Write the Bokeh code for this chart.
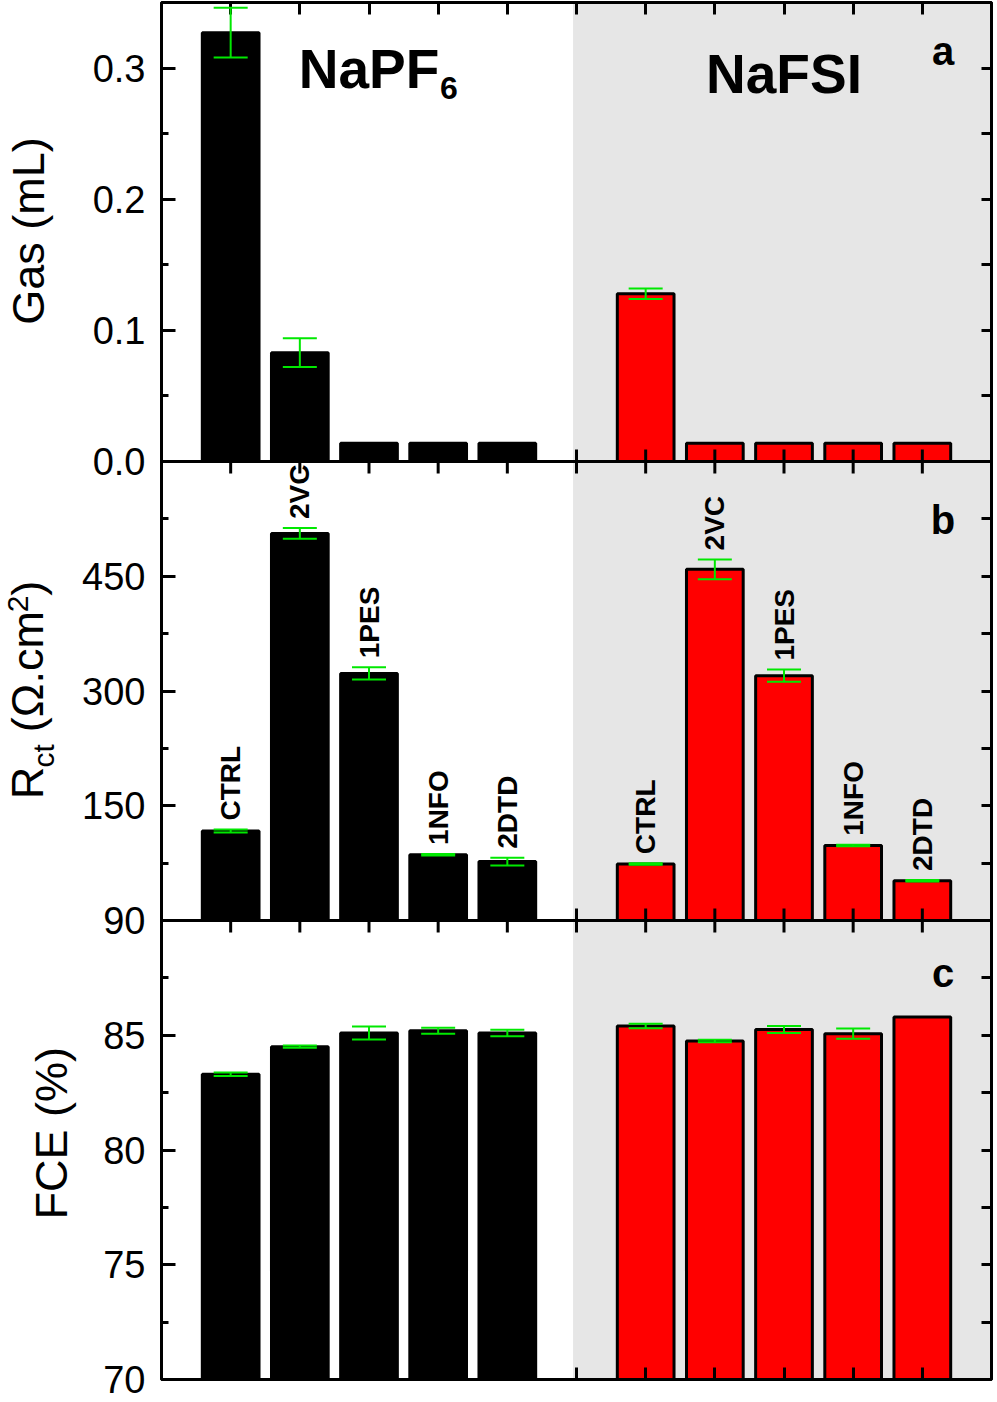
import math
from bokeh.plotting import figure
from bokeh.layouts import row
from bokeh.models import (ColumnDataSource, Range1d, FixedTicker, LinearAxis, Whisker,
                          TeeHead, BoxAnnotation, Span)
from bokeh.core.properties import value
from bokeh.embed import file_html
from bokeh.resources import INLINE

# ---------------- data ----------------
additives = ["CTRL", "2VC", "1PES", "1NFO", "2DTD"]
x_pf6 = [1, 2, 3, 4, 5]
x_fsi = [7, 8, 9, 10, 11]
x_ticks = [1, 2, 3, 4, 5, 6, 7, 8, 9, 10, 11]

gas_pf6 = [0.327, 0.083, 0.014, 0.014, 0.014]
gas_pf6_err = [0.019, 0.011, 0.0, 0.0, 0.0]
gas_fsi = [0.128, 0.014, 0.014, 0.014, 0.014]
gas_fsi_err = [0.004, 0.0, 0.0, 0.0, 0.0]

rct_pf6 = [117, 506, 323, 86, 77]
rct_pf6_err = [2, 7, 8, 1, 5]
rct_fsi = [74, 459, 320, 98, 52]
rct_fsi_err = [1, 13, 8, 1, 1]

fce_pf6 = [83.3, 84.5, 85.1, 85.2, 85.1]
fce_pf6_err = [0.08, 0.05, 0.28, 0.13, 0.14]
fce_fsi = [85.4, 84.75, 85.25, 85.07, 85.8]
fce_fsi_err = [0.1, 0.05, 0.15, 0.22, 0.0]

gas_ticks = [0.0, 0.1, 0.2, 0.3]
gas_tick_labels = ["0.0", "0.1", "0.2", "0.3"]
gas_minor = [0.05, 0.15, 0.25]
rct_ticks = [150, 300, 450]
rct_tick_labels = ["150", "300", "450"]
rct_minor = [75, 225, 375, 525]
fce_ticks = [70, 75, 80, 85, 90]
fce_tick_labels = ["70", "75", "80", "85", "90"]
fce_minor = [72.5, 77.5, 82.5, 87.5]

# ---------------- layout constants ----------------
TOP, BOTTOM = 2, 22
FRAME_W, FRAME_H = 830, 1377
CANVAS_H = TOP + FRAME_H + BOTTOM
TITLE_W = 78          # strip holding the rotated axis titles
LEFT_BORDER = 83      # tick-label room of the main figure
panels = {
    "a": dict(lo=0.0, hi=0.35, p0=918, p1=1377),
    "b": dict(lo=0.0, hi=600.0, p0=459, p1=918),
    "c": dict(lo=70.0, hi=90.0, p0=0, p1=459),
}
GREEN = "#00e800"
RED = "#ff0000"
SHADE = "#e6e6e6"
FONT = "Liberation Sans"
MID = 0.35            # baseline -> text middle, in em


def to_px(v, name):
    c = panels[name]
    return round(c["p0"] + (v - c["lo"]) / (c["hi"] - c["lo"]) * (c["p1"] - c["p0"]), 3)


def below_top(name, d):
    """frame px (from frame bottom) lying d px (reference scale) below a panel's top"""
    c = panels[name]
    return c["p1"] - d * (c["p1"] - c["p0"]) / 462.0


p = figure(frame_width=FRAME_W, frame_height=FRAME_H,
           x_range=Range1d(0, 12), y_range=Range1d(0, FRAME_H),
           output_backend="svg", toolbar_location=None,
           x_axis_location=None, y_axis_location=None,
           min_border_left=LEFT_BORDER, min_border_right=6, min_border_top=TOP,
           min_border_bottom=BOTTOM)
p.outline_line_color = "black"
p.outline_line_width = 3
p.background_fill_color = "white"
p.border_fill_color = "white"
p.grid.visible = False

extra = {}
for name, c in panels.items():
    k = (c["hi"] - c["lo"]) / (c["p1"] - c["p0"])
    extra[name] = Range1d(c["lo"] - c["p0"] * k, c["lo"] + (FRAME_H - c["p0"]) * k)
p.extra_y_ranges = extra

# shaded NaFSI half
p.add_layout(BoxAnnotation(left=5.95, fill_color=SHADE, fill_alpha=1.0,
                           line_color=None, level="underlay"))

# ---------------- y axes (left labelled, right mirrored) ----------------
major_px, minor_px, label_map = [], [], {}
for name, ticks, labels, minors in [("a", gas_ticks, gas_tick_labels, gas_minor),
                                    ("b", rct_ticks, rct_tick_labels, rct_minor),
                                    ("c", fce_ticks, fce_tick_labels, fce_minor)]:
    for t, l in zip(ticks, labels):
        px = to_px(t, name)
        major_px.append(px)
        label_map[px] = l
    for m in minors:
        minor_px.append(to_px(m, name))

left = LinearAxis(ticker=FixedTicker(ticks=major_px, minor_ticks=minor_px),
                  major_label_overrides=label_map,
                  major_tick_in=14, major_tick_out=0, minor_tick_in=7, minor_tick_out=0,
                  major_tick_line_width=3, minor_tick_line_width=3, axis_line_width=3,
                  major_label_standoff=16, major_label_text_font=FONT,
                  major_label_text_font_size="38px", major_label_text_color="black")
p.add_layout(left, "left")

right = LinearAxis(ticker=FixedTicker(ticks=major_px, minor_ticks=minor_px),
                   major_label_overrides={t: "" for t in major_px},
                   major_tick_in=10, major_tick_out=0, minor_tick_in=10, minor_tick_out=0,
                   major_tick_line_width=3, minor_tick_line_width=3, axis_line_width=3,
                   major_label_standoff=0, major_label_text_font_size="1px")
p.add_layout(right, "right")

for loc in ("below", "above"):
    ax = LinearAxis(ticker=FixedTicker(ticks=x_ticks, minor_ticks=[]),
                    major_label_overrides={t: "" for t in x_ticks},
                    major_tick_in=12, major_tick_out=0, major_tick_line_width=3,
                    axis_line_width=3, major_label_standoff=0,
                    major_label_text_font_size="1px")
    p.add_layout(ax, loc)

# ---------------- bars + error bars ----------------
def add_group(xs, vals, errs, panel, color):
    base = panels[panel]["lo"]
    src = ColumnDataSource(dict(x=xs, top=vals, bottom=[base] * len(xs)))
    p.vbar(x="x", top="top", bottom="bottom", width=0.82, fill_color=color,
           line_color="black", line_width=3, y_range_name=panel, source=src)
    ex = [x for x, e in zip(xs, errs) if e > 0]
    up = [v + e for v, e in zip(vals, errs) if e > 0]
    lo = [v - e for v, e in zip(vals, errs) if e > 0]
    wsrc = ColumnDataSource(dict(x=ex, upper=up, lower=lo))
    w = Whisker(source=wsrc, base="x", upper="upper", lower="lower", y_range_name=panel,
                line_color=GREEN, line_width=2, level="annotation",
                upper_head=TeeHead(size=34, line_color=GREEN, line_width=2),
                lower_head=TeeHead(size=34, line_color=GREEN, line_width=2))
    p.add_layout(w)


add_group(x_pf6, gas_pf6, gas_pf6_err, "a", "black")
add_group(x_fsi, gas_fsi, gas_fsi_err, "a", RED)
add_group(x_pf6, rct_pf6, rct_pf6_err, "b", "black")
add_group(x_fsi, rct_fsi, rct_fsi_err, "b", RED)
add_group(x_pf6, fce_pf6, fce_pf6_err, "c", "black")
add_group(x_fsi, fce_fsi, fce_fsi_err, "c", RED)

# additive names above panel-b bars
for xs, vals, errs in [(x_pf6, rct_pf6, rct_pf6_err), (x_fsi, rct_fsi, rct_fsi_err)]:
    tsrc = ColumnDataSource(dict(x=xs, y=[v + e for v, e in zip(vals, errs)], text=additives))
    p.text(x="x", y="y", text="text", source=tsrc, y_range_name="b", angle=math.pi / 2,
           text_align="left", text_baseline="middle", y_offset=-9,
           text_font=value(FONT), text_font_style="bold", text_font_size="28px",
           text_color="black")

# panel boundaries with inward ticks on both sides
for name in ("a", "b"):
    p.add_layout(Span(location=panels[name]["p0"], dimension="width",
                      line_color="black", line_width=3))
seg_x, seg_y0, seg_y1 = [], [], []
for name in ("a", "b"):
    b = panels[name]["p0"]
    for t in x_ticks:
        seg_x.append(t)
        seg_y0.append(b - 12)
        seg_y1.append(b + 12)
p.segment(x0=seg_x, y0=seg_y0, x1=seg_x, y1=seg_y1, line_color="black", line_width=3)


# ---------------- texts (anchored on their baseline) ----------------
def txt(fig, text, x, y, size, bold=False, align="left", rotated=False, x_offset=0):
    s = float(size.replace("px", ""))
    if rotated:
        xo, yo, ang = x_offset - MID * s, 0, math.pi / 2
    else:
        xo, yo, ang = x_offset, -MID * s, 0.0
    fig.text(x=[x], y=[y], text=[text], angle=ang, x_offset=xo, y_offset=yo,
             text_align=align, text_baseline="middle",
             text_font=value(FONT), text_font_size=size,
             text_font_style="bold" if bold else "normal", text_color="black")


txt(p, "NaPF", 3, below_top("a", 86), "55px", bold=True, align="center")
txt(p, "6", 3, below_top("a", 97), "32px", bold=True, align="left", x_offset=71)
txt(p, "NaFSI", 9, below_top("a", 91), "55px", bold=True, align="center")
txt(p, "a", 11.3, below_top("a", 63), "40px", bold=True, align="center")
txt(p, "b", 11.3, below_top("b", 73), "40px", bold=True, align="center")
txt(p, "c", 11.3, below_top("c", 67), "40px", bold=True, align="center")

# ---------------- strip with the rotated axis titles ----------------
t = figure(width=TITLE_W, height=CANVAS_H, x_range=Range1d(0, TITLE_W),
           y_range=Range1d(-BOTTOM, FRAME_H + TOP), output_backend="svg",
           toolbar_location=None, x_axis_location=None, y_axis_location=None,
           min_border_left=0, min_border_right=0, min_border_top=0, min_border_bottom=0)
t.outline_line_color = None
t.grid.visible = False
t.background_fill_color = "white"
t.border_fill_color = "white"

txt(t, "Gas (mL)", 44, below_top("a", 232), "45px", align="center", rotated=True)
txt(t, "FCE (%)", 67, below_top("c", 232), "45px", align="center", rotated=True)
# R_ct (Ω.cm^2) built from pieces along the rotated baseline
r0 = below_top("b", 352)
txt(t, "R", 43, r0, "45px", rotated=True)
txt(t, "ct", 53, r0 + 32.5, "30px", rotated=True)
txt(t, "(\u03a9.cm", 43, r0 + 68.3, "45px", rotated=True)
txt(t, "2", 28, r0 + 190.4, "30px", rotated=True)
txt(t, ")", 43, r0 + 207.1, "45px", rotated=True)

layout = row(t, p, spacing=0)
open("out.html", "w").write(file_html(layout, INLINE))
